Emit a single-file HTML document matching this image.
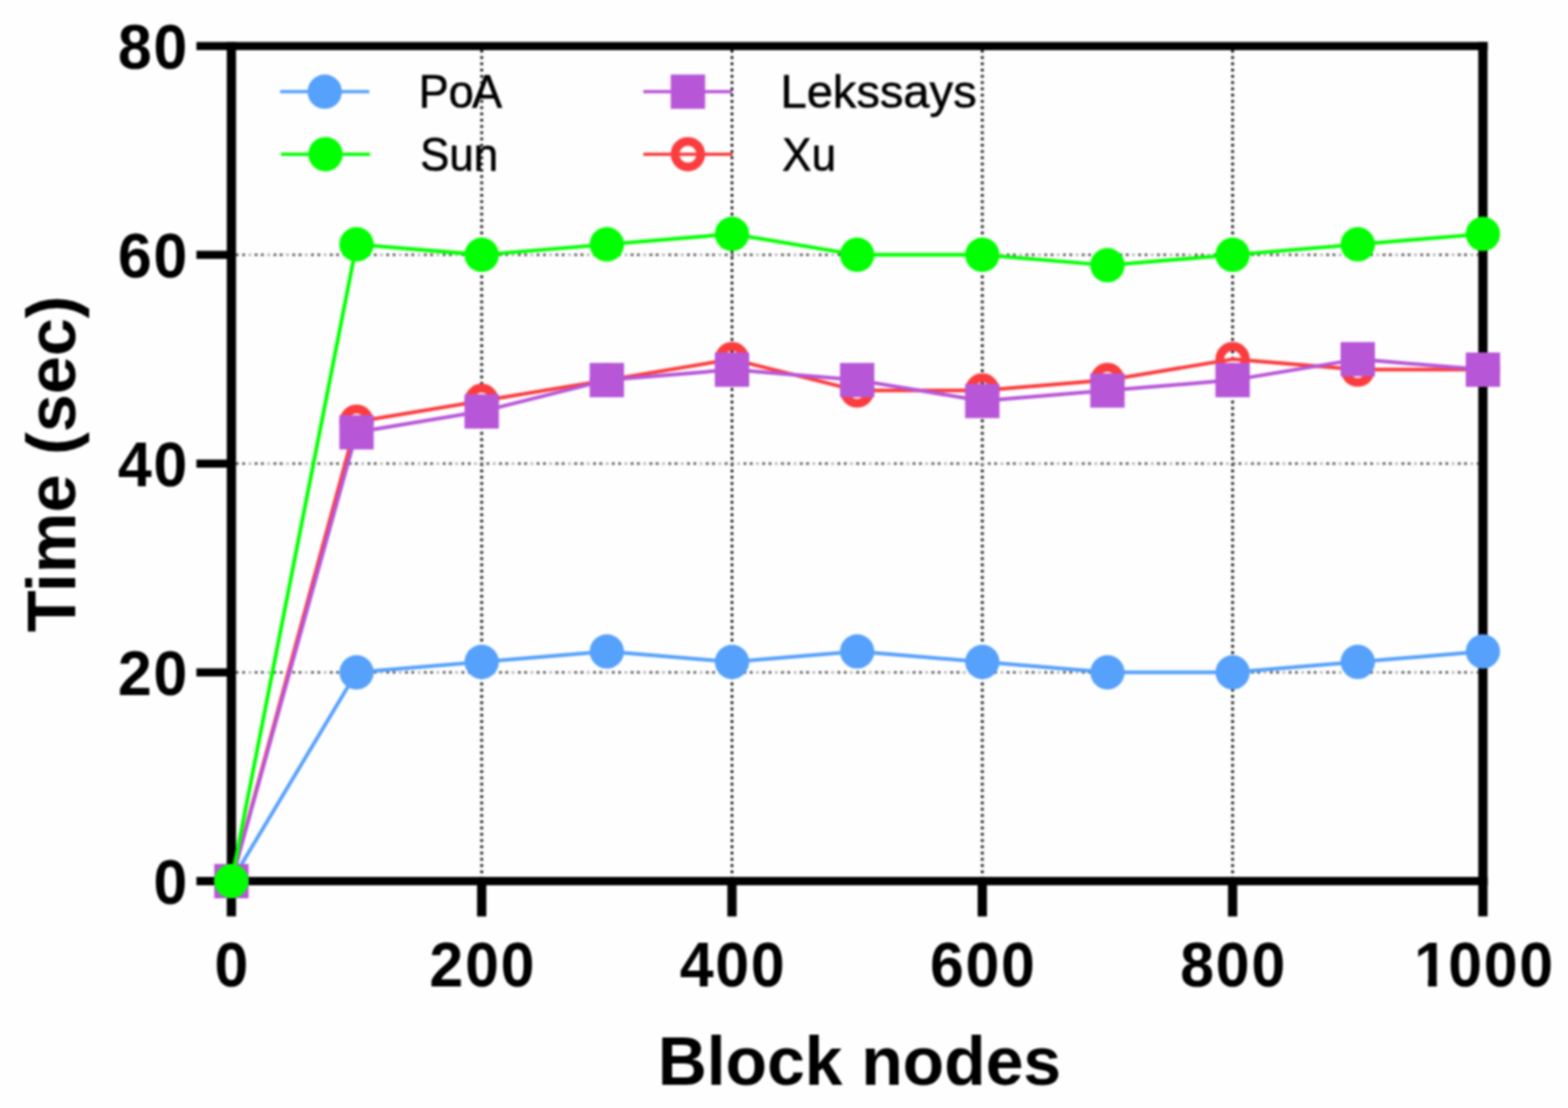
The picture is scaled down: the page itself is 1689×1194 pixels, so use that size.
<!DOCTYPE html>
<html lang="en">
<head>
<meta charset="utf-8">
<title>Time (sec) vs Block nodes</title>
<style>
html,body{margin:0;padding:0;background:#fff;}
body{width:1689px;height:1194px;overflow:hidden;}
svg{display:block;filter:blur(0.8px);}
text{font-family:"Liberation Sans",Arial,Helvetica,sans-serif;fill:#000;}
.tick{font-weight:bold;font-size:68px;}
.title{font-weight:bold;font-size:74px;}
.leg{font-size:50px;stroke:#000;stroke-width:0.6px;stroke-linejoin:round;}

</style>
</head>
<body>
<svg width="1689" height="1194" viewBox="0 0 1689 1194">
<rect x="0" y="0" width="1689" height="1194" fill="#fefefe"/>

<g fill="none" stroke="#1c1c1c" stroke-width="3.0" stroke-dasharray="3.0 3.75">
<line x1="518.87" y1="53.66" x2="518.87" y2="945.5"/>
<line x1="788.49" y1="53.66" x2="788.49" y2="945.5"/>
<line x1="1058.11" y1="53.66" x2="1058.11" y2="945.5"/>
<line x1="1327.73" y1="53.66" x2="1327.73" y2="945.5"/>
</g>
<g fill="none" stroke-width="2.8">
<line x1="254.25" y1="724.54" x2="1592.35" y2="724.54" stroke="#b4b4b4" stroke-dasharray="2.8 3.95"/>
<line x1="254.25" y1="724.54" x2="1592.35" y2="724.54" stroke="#5c5c5c" stroke-dasharray="2.8 3.95 2.8 10.7"/>
<line x1="254.25" y1="499.58" x2="1592.35" y2="499.58" stroke="#b4b4b4" stroke-dasharray="2.8 3.95"/>
<line x1="254.25" y1="499.58" x2="1592.35" y2="499.58" stroke="#5c5c5c" stroke-dasharray="2.8 3.95 2.8 10.7"/>
<line x1="254.25" y1="274.62" x2="1592.35" y2="274.62" stroke="#b4b4b4" stroke-dasharray="2.8 3.95"/>
<line x1="254.25" y1="274.62" x2="1592.35" y2="274.62" stroke="#5c5c5c" stroke-dasharray="2.8 3.95 2.8 10.7"/>
</g>
<g stroke="#000" stroke-width="10.0" fill="none" stroke-linecap="butt">
<line x1="249.25" y1="45.31" x2="249.25" y2="987.6"/>
<line x1="1597.35" y1="45.31" x2="1597.35" y2="987.6"/>
<line x1="518.87" y1="949.5" x2="518.87" y2="987.6"/>
<line x1="788.49" y1="949.5" x2="788.49" y2="987.6"/>
<line x1="1058.11" y1="949.5" x2="1058.11" y2="987.6"/>
<line x1="1327.73" y1="949.5" x2="1327.73" y2="987.6"/>
</g>
<g stroke="#000" stroke-width="8.7" fill="none" stroke-linecap="butt">
<line x1="211.6" y1="49.66" x2="1602.35" y2="49.66"/>
<line x1="211.6" y1="949.5" x2="1602.35" y2="949.5" stroke-width="9.2"/>
<line x1="211.6" y1="724.54" x2="249.25" y2="724.54"/>
<line x1="211.6" y1="499.58" x2="249.25" y2="499.58"/>
<line x1="211.6" y1="274.62" x2="249.25" y2="274.62"/>
</g>
<g class="tick">
<text transform="translate(203.7 974.2) scale(0.965 1.02)" text-anchor="end" letter-spacing="1.9">0</text>
<text transform="translate(203.7 749.24) scale(0.965 1.02)" text-anchor="end" letter-spacing="1.9">20</text>
<text transform="translate(203.7 524.28) scale(0.965 1.02)" text-anchor="end" letter-spacing="1.9">40</text>
<text transform="translate(203.7 299.32) scale(0.965 1.02)" text-anchor="end" letter-spacing="1.9">60</text>
<text transform="translate(203.7 74.36) scale(0.965 1.02)" text-anchor="end" letter-spacing="1.9">80</text>
<text transform="translate(250.15 1063.0) scale(0.965 1.02)" text-anchor="middle" letter-spacing="1.9">0</text>
<text transform="translate(520.07 1063.0) scale(0.965 1.02)" text-anchor="middle" letter-spacing="1.9">200</text>
<text transform="translate(789.69 1063.0) scale(0.965 1.02)" text-anchor="middle" letter-spacing="1.9">400</text>
<text transform="translate(1059.21 1063.0) scale(0.965 1.02)" text-anchor="middle" letter-spacing="1.9">600</text>
<text transform="translate(1328.73 1063.0) scale(0.965 1.02)" text-anchor="middle" letter-spacing="1.9">800</text>
<text transform="translate(1598.25 1063.0) scale(0.965 1.02)" x="-0.8" dx="1.6 -1.6 0 0" text-anchor="middle" letter-spacing="1.9">1000</text>
</g>
<g transform="translate(1598.25 1063.0) scale(0.965 1.02)" fill="#fefefe">
<rect x="-74.75" y="-8.3" width="12.54" height="9.2"/>
<rect x="-52.39" y="-8.3" width="11.67" height="9.2"/>
</g>
<text class="title" transform="translate(925.7 1169.0) scale(0.99 1)" text-anchor="middle" letter-spacing="-0.1">Block nodes</text>
<text class="title" transform="translate(81.0 499.8) rotate(-90) scale(0.995 1)" text-anchor="middle" dx="0 -0.6 0 0 0.6 0 0 0 0 0">Time (sec)</text>
<g>
<line x1="301.8" y1="98.8" x2="397.8" y2="98.8" stroke="#56a1fc" stroke-width="3.4"/>
<circle cx="349.8" cy="98.8" r="18.5" fill="#56a1fc"/>
<text class="leg" transform="translate(450.9 116.4) scale(0.972 1)" dx="0 0 -2">PoA</text>
<line x1="302.6" y1="166.2" x2="398.6" y2="166.2" stroke="#00ff00" stroke-width="3.4"/>
<circle cx="350.6" cy="166.2" r="18.5" fill="#00ff00"/>
<text class="leg" transform="translate(452.5 183.8) scale(0.946 1)">Sun</text>
<line x1="693.0" y1="98.8" x2="789.0" y2="98.8" stroke="#b856d8" stroke-width="3.4"/>
<rect x="722.5" y="80.3" width="37.0" height="37.0" fill="#b856d8"/>
<text class="leg" transform="translate(840.7 116.4) scale(1.014 1)">Lekssays</text>
<line x1="693.0" y1="166.2" x2="789.0" y2="166.2" stroke="#fb3d3f" stroke-width="3.4"/>
<circle cx="741.0" cy="166.2" r="13.8" fill="none" stroke="#fb3d3f" stroke-width="9.4"/>
<text class="leg" transform="translate(842.6 183.8) scale(0.946 1)">Xu</text>
</g>
<g>
<polyline points="249.25,949.5 384.06,724.54 518.87,713.29 653.68,702.04 788.49,713.29 923.3,702.04 1058.11,713.29 1192.92,724.54 1327.73,724.54 1462.54,713.29 1597.35,702.04" fill="none" stroke="#56a1fc" stroke-width="4.0" stroke-linejoin="round"/>
<circle cx="249.25" cy="949.5" r="18.5" fill="#56a1fc"/>
<circle cx="384.06" cy="724.54" r="18.5" fill="#56a1fc"/>
<circle cx="518.87" cy="713.29" r="18.5" fill="#56a1fc"/>
<circle cx="653.68" cy="702.04" r="18.5" fill="#56a1fc"/>
<circle cx="788.49" cy="713.29" r="18.5" fill="#56a1fc"/>
<circle cx="923.3" cy="702.04" r="18.5" fill="#56a1fc"/>
<circle cx="1058.11" cy="713.29" r="18.5" fill="#56a1fc"/>
<circle cx="1192.92" cy="724.54" r="18.5" fill="#56a1fc"/>
<circle cx="1327.73" cy="724.54" r="18.5" fill="#56a1fc"/>
<circle cx="1462.54" cy="713.29" r="18.5" fill="#56a1fc"/>
<circle cx="1597.35" cy="702.04" r="18.5" fill="#56a1fc"/>
</g>
<g>
<polyline points="249.25,949.5 384.06,454.59 518.87,432.09 653.68,409.6 788.49,387.1 923.3,420.84 1058.11,420.84 1192.92,409.6 1327.73,387.1 1462.54,398.35 1597.35,398.35" fill="none" stroke="#fb3d3f" stroke-width="4.0" stroke-linejoin="round"/>
<circle cx="249.25" cy="949.5" r="13.8" fill="none" stroke="#fb3d3f" stroke-width="9.4"/>
<circle cx="384.06" cy="454.59" r="13.8" fill="none" stroke="#fb3d3f" stroke-width="9.4"/>
<circle cx="518.87" cy="432.09" r="13.8" fill="none" stroke="#fb3d3f" stroke-width="9.4"/>
<circle cx="653.68" cy="409.6" r="13.8" fill="none" stroke="#fb3d3f" stroke-width="9.4"/>
<circle cx="788.49" cy="387.1" r="13.8" fill="none" stroke="#fb3d3f" stroke-width="9.4"/>
<circle cx="923.3" cy="420.84" r="13.8" fill="none" stroke="#fb3d3f" stroke-width="9.4"/>
<circle cx="1058.11" cy="420.84" r="13.8" fill="none" stroke="#fb3d3f" stroke-width="9.4"/>
<circle cx="1192.92" cy="409.6" r="13.8" fill="none" stroke="#fb3d3f" stroke-width="9.4"/>
<circle cx="1327.73" cy="387.1" r="13.8" fill="none" stroke="#fb3d3f" stroke-width="9.4"/>
<circle cx="1462.54" cy="398.35" r="13.8" fill="none" stroke="#fb3d3f" stroke-width="9.4"/>
<circle cx="1597.35" cy="398.35" r="13.8" fill="none" stroke="#fb3d3f" stroke-width="9.4"/>
</g>
<g>
<polyline points="249.25,949.5 384.06,465.84 518.87,443.34 653.68,409.6 788.49,398.35 923.3,409.6 1058.11,432.09 1192.92,420.84 1327.73,409.6 1462.54,387.1 1597.35,398.35" fill="none" stroke="#b856d8" stroke-width="4.0" stroke-linejoin="round"/>
<rect x="230.75" y="931.0" width="37.0" height="37.0" fill="#b856d8"/>
<rect x="365.56" y="447.34" width="37.0" height="37.0" fill="#b856d8"/>
<rect x="500.37" y="424.84" width="37.0" height="37.0" fill="#b856d8"/>
<rect x="635.18" y="391.1" width="37.0" height="37.0" fill="#b856d8"/>
<rect x="769.99" y="379.85" width="37.0" height="37.0" fill="#b856d8"/>
<rect x="904.8" y="391.1" width="37.0" height="37.0" fill="#b856d8"/>
<rect x="1039.61" y="413.59" width="37.0" height="37.0" fill="#b856d8"/>
<rect x="1174.42" y="402.34" width="37.0" height="37.0" fill="#b856d8"/>
<rect x="1309.23" y="391.1" width="37.0" height="37.0" fill="#b856d8"/>
<rect x="1444.04" y="368.6" width="37.0" height="37.0" fill="#b856d8"/>
<rect x="1578.85" y="379.85" width="37.0" height="37.0" fill="#b856d8"/>
</g>
<g>
<polyline points="249.25,949.5 384.06,263.37 518.87,274.62 653.68,263.37 788.49,252.12 923.3,274.62 1058.11,274.62 1192.92,285.87 1327.73,274.62 1462.54,263.37 1597.35,252.12" fill="none" stroke="#00ff00" stroke-width="4.0" stroke-linejoin="round"/>
<circle cx="249.25" cy="949.5" r="18.5" fill="#00ff00"/>
<circle cx="384.06" cy="263.37" r="18.5" fill="#00ff00"/>
<circle cx="518.87" cy="274.62" r="18.5" fill="#00ff00"/>
<circle cx="653.68" cy="263.37" r="18.5" fill="#00ff00"/>
<circle cx="788.49" cy="252.12" r="18.5" fill="#00ff00"/>
<circle cx="923.3" cy="274.62" r="18.5" fill="#00ff00"/>
<circle cx="1058.11" cy="274.62" r="18.5" fill="#00ff00"/>
<circle cx="1192.92" cy="285.87" r="18.5" fill="#00ff00"/>
<circle cx="1327.73" cy="274.62" r="18.5" fill="#00ff00"/>
<circle cx="1462.54" cy="263.37" r="18.5" fill="#00ff00"/>
<circle cx="1597.35" cy="252.12" r="18.5" fill="#00ff00"/>
</g>
</svg>
</body>
</html>
